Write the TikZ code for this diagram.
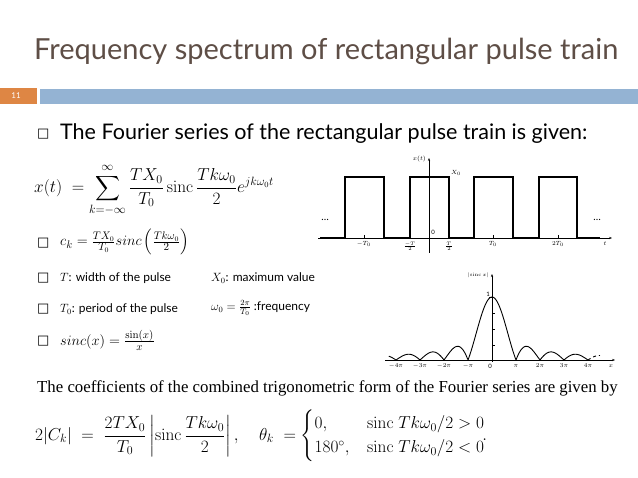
\documentclass[tikz,border=0pt]{standalone}
\usepackage{amsmath}
\usepackage[no-math]{fontspec}
\setmainfont{Lato}
\newfontfamily\tnr{Liberation Serif}
\newfontfamily\sym{DejaVu Sans}
\usetikzlibrary{arrows.meta}
\definecolor{titlec}{HTML}{5E4E46}
\definecolor{barblue}{HTML}{94B3D3}
\definecolor{barorange}{HTML}{DE8644}
\tikzset{
  lbl/.style={inner sep=0pt, font=\fontsize{6}{7}\selectfont},
  bul/.style={inner sep=0pt, font=\sym\fontsize{13}{14}\selectfont, anchor=west},
  txt/.style={inner sep=0pt, anchor=west, font=\fontsize{12}{14}\selectfont},
  axis/.style={line width=0.5pt, -{Stealth[length=3pt]}},
  sig/.style={line width=1.3pt},
}
\begin{document}
\begin{tikzpicture}[x=1pt,y=-1pt]
\useasboundingbox (0,0) rectangle (638,478);
\fill[white] (0,0) rectangle (638,478);
% title
\node[inner sep=0pt, anchor=base west, text=titlec, font=\fontsize{29}{32}\selectfont] (title) at (34,60) {Frequency spectrum of rectangular pulse train};
\fill[barorange] (0,88) rectangle (37,104);
\node[inner sep=0pt, text=white, font=\fontsize{8}{9}\selectfont] (num) at (16,96) {11};
\fill[barblue] (40,89) rectangle (638,104);
% bullets
\node[bul] (b1) at (37,134) {□};
\node[inner sep=0pt, anchor=west, font=\fontsize{21.5}{24}\selectfont] (t1) at (60,134) {The Fourier series of the rectangular pulse train is given:};
\node[inner sep=0pt, anchor=west, font=\fontsize{17}{20}\selectfont] (f1) at (34,190) {$x(t)\;=\displaystyle\sum_{k=-\infty}^{\infty}\frac{TX_0}{T_0}\,\mathrm{sinc}\,\frac{Tk\omega_0}{2}e^{jk\omega_0 t}$};
\node[bul] (b2) at (37,243) {□};
\node[txt, font=\fontsize{15}{17}\selectfont] (ck) at (60,242) {$c_k=\frac{TX_0}{T_0}sinc\left(\frac{Tk\omega_0}{2}\right)$};
\node[bul] (b3) at (37,278) {□};
\node[txt] (tw) at (60,278) {$T$: width of the pulse};
\node[txt] (x0) at (211,278) {$X_0$: maximum value};
\node[bul] (b4) at (37,309) {□};
\node[txt] (tp) at (60,309) {$T_0$: period of the pulse};
\node[txt] (w0) at (211,308) {$\omega_0=\frac{2\pi}{T_0}$ :frequency};
\node[bul] (b5) at (37,341) {□};
\node[txt, font=\fontsize{15}{17}\selectfont] (sx) at (60,340) {$sinc(x)=\frac{\sin(x)}{x}$};
% pulse train
\coordinate (pa0) at (318,238); \coordinate (pa1) at (612,238);
\draw[axis] (pa0) -- (pa1);
\coordinate (pv0) at (429,253); \coordinate (pv1) at (429,158);
\draw[axis] (pv0) -- (pv1);
\draw[sig] (320,238) -- (345,238) -- (345,177) -- (384,177) -- (384,238) -- (410,238) -- (410,177) -- (449,177) -- (449,238) -- (474,238) -- (474,177) -- (513,177) -- (513,238) -- (539,238) -- (539,177) -- (577,177) -- (577,238) -- (600,238);
\foreach \x in {364,493,558} \draw[line width=0.4pt] (\x,235) -- (\x,238);
\node[lbl, anchor=east] (xt) at (426,159) {$x(t)$};
\node[lbl] (X0l) at (456,173) {$X_0$};
\node[lbl] (z) at (433,232) {0};
\node[lbl] (l1) at (364,244) {$-T_0$};
\node[lbl] (l2) at (410,246) {$\frac{-T}{2}$};
\node[lbl] (l3) at (449,246) {$\frac{T}{2}$};
\node[lbl] (l4) at (493,244) {$T_0$};
\node[lbl] (l5) at (558,244) {$2T_0$};
\node[lbl] (l6) at (605,244) {$t$};
\node[inner sep=0pt, font=\fontsize{10}{10}\selectfont] (d1) at (325,220) {\dots};
\node[inner sep=0pt, font=\fontsize{10}{10}\selectfont] (d2) at (597,220) {\dots};
% sinc plot
\coordinate (sa0) at (385,360); \coordinate (sa1) at (615,360);
\draw[axis] (sa0) -- (sa1);
\coordinate (sv0) at (492,362); \coordinate (sv1) at (492,274);
\draw[axis] (sv0) -- (sv1);
\foreach \y in {313,329,345} \draw[line width=0.4pt] (492,\y) -- (495,\y);
\draw[line width=0.4pt] (489,297) -- (492,297);
\draw[line width=0.9pt, domain=-4.3:-0.001, samples=200, smooth] plot ({492+24*\x}, {360-63*abs(sin(\x*180)/(\x*3.14159))});
\draw[line width=0.9pt, domain=0.001:4, samples=200, smooth] plot ({492+24*\x}, {360-63*abs(sin(\x*180)/(\x*3.14159))});
\draw[line width=0.9pt, dashed, domain=4:4.5, samples=30, smooth] plot ({492+24*\x}, {360-63*abs(sin(\x*180)/(\x*3.14159))});
\node[lbl,font=\fontsize{5}{6}\selectfont, anchor=east] (sl) at (489,275) {$|\mathrm{sinc}\,x|$};
\node[lbl] (one) at (488,294) {1};
\node[lbl] (m4) at (396,366) {$-4\pi$};
\node[lbl] (m3) at (420,366) {$-3\pi$};
\node[lbl] (m2) at (444,366) {$-2\pi$};
\node[lbl] (m1) at (468,366) {$-\pi$};
\node[lbl] (s0) at (490,366) {0};
\node[lbl] (p1) at (516,366) {$\pi$};
\node[lbl] (p2) at (540,366) {$2\pi$};
\node[lbl] (p3) at (564,366) {$3\pi$};
\node[lbl] (p4) at (588,366) {$4\pi$};
\node[lbl] (px) at (611,366) {$x$};
% bottom
\node[inner sep=0pt, anchor=west, font=\tnr\fontsize{16.8}{19}\selectfont] (bt) at (37,388) {The coefficients of the combined trigonometric form of the Fourier series are given by};
\node[inner sep=0pt, anchor=west, font=\fontsize{17.5}{20}\selectfont] (bf) at (35,436) {$2|C_k|\;=\;\dfrac{2TX_0}{T_0}\left|\mathrm{sinc}\,\dfrac{Tk\omega_0}{2}\right|,\quad \theta_k\;=\begin{cases}0, & \mathrm{sinc}\;Tk\omega_0/2>0\\ 180^\circ, & \mathrm{sinc}\;Tk\omega_0/2<0\end{cases}\!\!.$};
\end{tikzpicture}
\end{document}
